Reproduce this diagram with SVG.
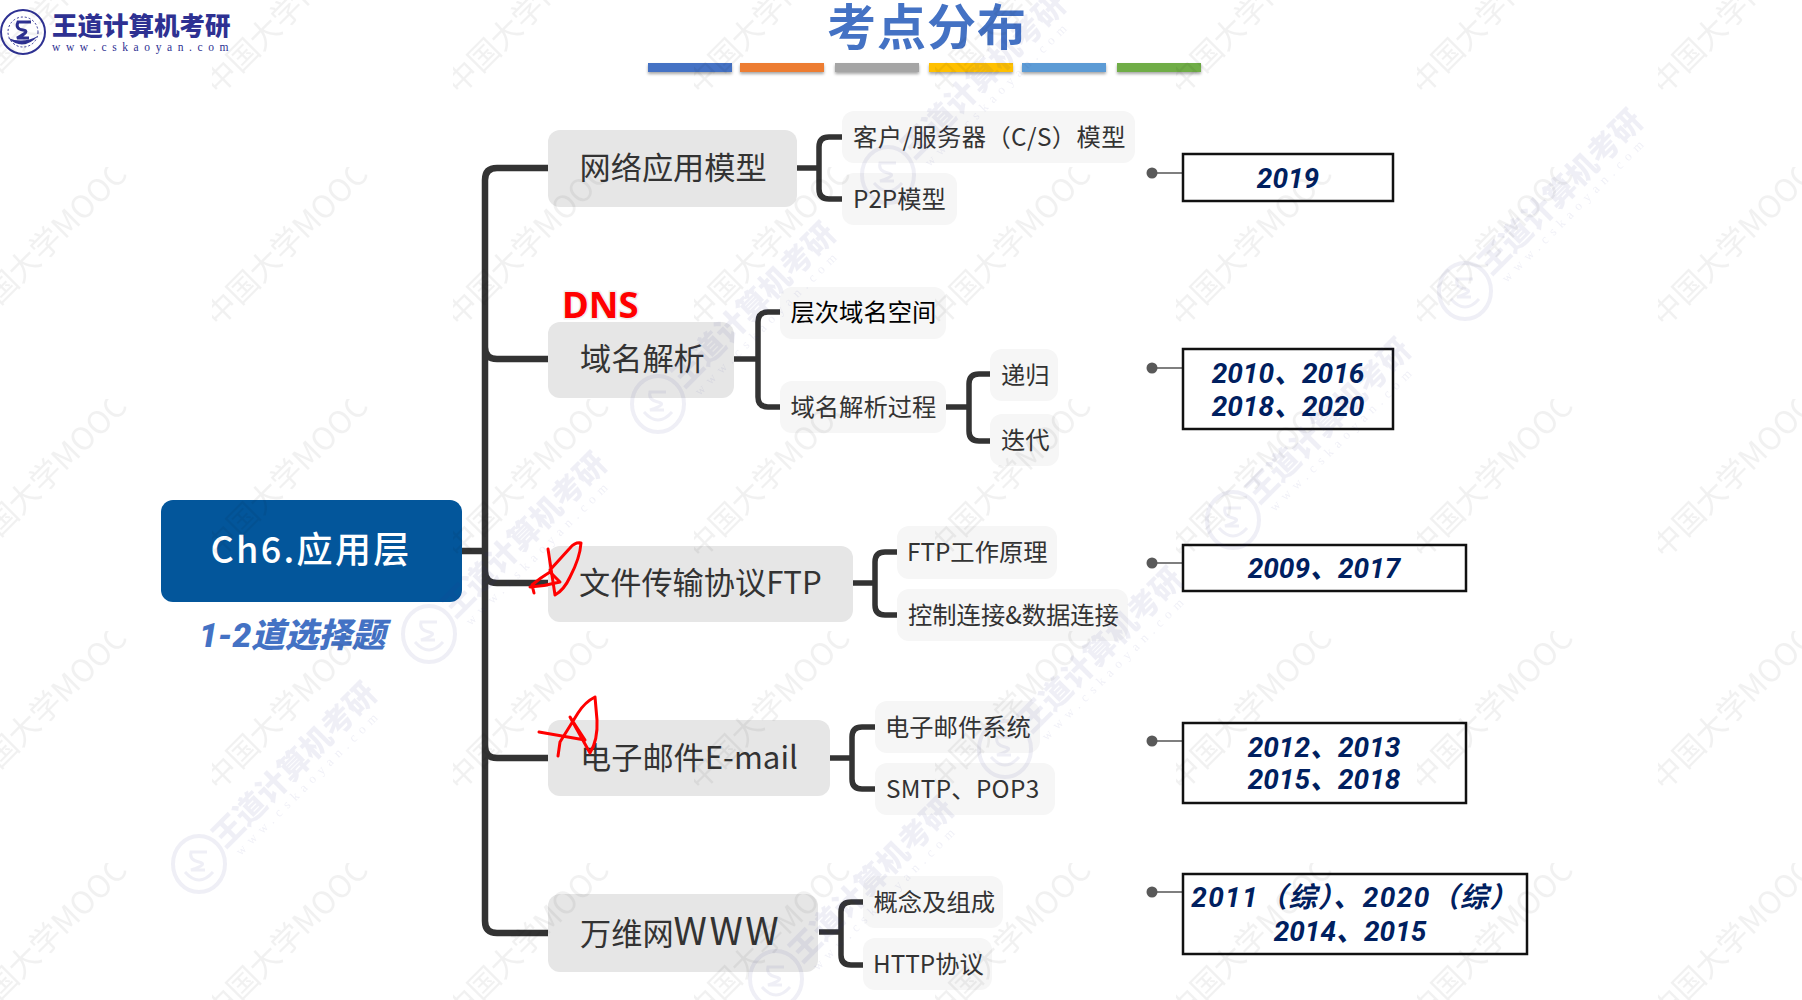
<svg xmlns="http://www.w3.org/2000/svg" xmlns:xlink="http://www.w3.org/1999/xlink" width="1802" height="1000" viewBox="0 0 1802 1000">
<style>
text{font-family:"Noto Sans CJK SC","Noto Sans",sans-serif}
.l1{fill:#e6e6e6}
.l2{fill:#f6f6f6}
.t1{font-size:31.2px;fill:#333}
.t2{font-size:24.3px;fill:#333}
.conn{fill:none;stroke:#333;stroke-width:5.5;stroke-linejoin:round}
.trunk{stroke-width:6.5}
.year{fill:#fff;stroke:#111;stroke-width:2.5}
.yt{font-family:Roboto,"Noto Sans CJK SC",sans-serif;font-size:28px;font-weight:700;font-style:italic;fill:#002060;text-anchor:middle}
.pin{fill:none;stroke:#7f7f7f;stroke-width:2}
.dot{fill:#595959}
.scr{fill:none;stroke:#f00;stroke-width:3;stroke-linejoin:round;stroke-linecap:round}
.wm1{font-size:31px;fill:#000;opacity:.055}
.wm2{font-size:31px;font-weight:900;fill:#2e3192;opacity:.07}
.wm3{font-family:"Liberation Serif",serif;font-size:13px;letter-spacing:6px;fill:#2e3192;opacity:.07}
</style>
<defs>
<filter id="sh" x="-10%" y="-30%" width="120%" height="200%"><feDropShadow dx="0" dy="2" stdDeviation="1.5" flood-color="#000" flood-opacity=".35"/></filter>
<pattern id="wmp" patternUnits="userSpaceOnUse" x="-29" y="-65" width="241" height="232">
<text class="wm1" transform="translate(6,161) rotate(-45)">中国大学MOOC</text>
</pattern>
<g id="wm2">
<ellipse cx="0" cy="0" rx="26" ry="28" fill="none" stroke="#2e3192" stroke-opacity=".08" stroke-width="4"/>
<path d="M-14 8Q0 24 14 8M8-12H-8Q-10-4 0-2T-8 6H6" fill="none" stroke="#2e3192" stroke-opacity=".08" stroke-width="3"/>
<g transform="rotate(-45)">
<text class="wm2" x="29" y="8">王道计算机考研</text>
<text class="wm3" x="35" y="24">www.cskaoyan.com</text>
</g>
</g>
</defs>
<rect width="1802" height="1000" fill="#fff"/>
<g id="logo">
<circle cx="23" cy="32" r="22" fill="#fff" stroke="#2e3192" stroke-width="2"/>
<circle cx="23" cy="32" r="15" fill="none" stroke="#2e3192" stroke-width="1" stroke-dasharray="2 2"/>
<path d="M8 38Q23 52 38 36Q23 44 8 38Z" fill="#2e3192"/>
<path d="M31 22H18Q15 29 23 30T17 38H29" fill="none" stroke="#2e3192" stroke-width="3"/>
<text x="52" y="35" font-size="25.5" font-weight="900" fill="#2e3192">王道计算机考研</text>
<text x="52" y="51" font-size="11.5" letter-spacing="5.6" style="font-family:'Liberation Serif',serif" fill="#2e3192">www.cskaoyan.com</text>
</g>
<g id="title">
<text x="927" y="45" font-size="49" font-weight="700" fill="#4472c4" text-anchor="middle" letter-spacing="1">考点分布</text>
<g filter="url(#sh)">
<rect x="648" y="63" width="84" height="9" fill="#4472c4"/>
<rect x="740" y="63" width="84" height="9" fill="#ed7d31"/>
<rect x="835" y="63" width="84" height="9" fill="#a5a5a5"/>
<rect x="929" y="63" width="84" height="9" fill="#ffc000"/>
<rect x="1022" y="63" width="84" height="9" fill="#5b9bd5"/>
<rect x="1117" y="63" width="84" height="9" fill="#70ad47"/>
</g>
</g>
<g id="connectors">
<path class="conn trunk" d="M462 551H485M548 168H497Q485 168 485 180V921Q485 933 497 933H548M485 347Q485 359 497 359H548M485 571Q485 583 497 583H548M485 746Q485 758 497 758H548"/>
<path class="conn" d="M796 168H819M842 137H829Q819 137 819 147V189Q819 199 829 199H842"/>
<path class="conn" d="M734 359H758M780 312H768Q758 312 758 322V397Q758 407 768 407H780"/>
<path class="conn" d="M946 407H969M990 374H979Q969 374 969 384V431Q969 441 979 441H990"/>
<path class="conn" d="M853 583H875M897 552H885Q875 552 875 562V605Q875 615 885 615H897"/>
<path class="conn" d="M830 758H852M875 727H862Q852 727 852 737V779Q852 789 862 789H875"/>
<path class="conn" d="M819 932H841M863 902H851Q841 902 841 912V955Q841 965 851 965H863"/>
<path class="pin" d="M1152 173H1182M1152 368H1182M1152 563H1182M1152 741H1182M1152 892H1182"/>
<circle class="dot" cx="1152" cy="173" r="5.5"/><circle class="dot" cx="1152" cy="368" r="5.5"/><circle class="dot" cx="1152" cy="563" r="5.5"/><circle class="dot" cx="1152" cy="741" r="5.5"/><circle class="dot" cx="1152" cy="892" r="5.5"/>
</g>
<g id="root">
<rect x="161" y="500" width="301" height="102" rx="12" fill="#03569b"/>
<text x="311" y="563" font-size="36" font-weight="500" fill="#fff" text-anchor="middle" letter-spacing="2.3">Ch6.应用层</text>
<text x="199" y="647" style="font-family:Roboto,'Noto Sans CJK SC',sans-serif" font-size="33.500" font-weight="900" font-style="italic" fill="#4472c4">1-2道选择题</text>
</g>
<g id="n-model"><rect class="l1" x="548" y="130" width="249" height="77" rx="12"/><text class="t1" x="579.500" y="179">网络应用模型</text></g>
<g id="n-cs"><rect class="l2" x="842" y="111" width="293" height="52" rx="12"/><text class="t2" x="853" y="146" letter-spacing=".4">客户/服务器（C/S）模型</text></g>
<g id="n-p2p"><rect class="l2" x="842" y="173" width="115" height="52" rx="12"/><text class="t2" x="853" y="208">P2P模型</text></g>
<g id="n-dns"><rect class="l1" x="548" y="322" width="186" height="76" rx="12"/><text class="t1" x="580" y="370">域名解析</text>
<text x="562" y="318" style="font-family:'Noto Sans',sans-serif;paint-order:stroke" font-size="36.500" font-weight="700" fill="#f00" stroke="#eee" stroke-width="3">DNS</text></g>
<g id="n-space"><rect class="l2" x="780" y="287" width="166" height="52" rx="12"/><text class="t2" style="fill:#000" x="790.500" y="321">层次域名空间</text></g>
<g id="n-proc"><rect class="l2" x="780" y="381" width="166" height="52" rx="12"/><text class="t2" x="790.500" y="416">域名解析过程</text></g>
<g id="n-rec"><rect class="l2" x="990" y="349" width="68" height="52" rx="12"/><text class="t2" x="1001" y="384">递归</text></g>
<g id="n-iter"><rect class="l2" x="990" y="414" width="69" height="52" rx="12"/><text class="t2" x="1001" y="449">迭代</text></g>
<g id="n-ftp"><rect class="l1" x="548" y="546" width="305" height="76" rx="12"/><text class="t1" x="579" y="594">文件传输协议FTP</text></g>
<g id="n-ftp1"><rect class="l2" x="897" y="526" width="160" height="53" rx="12"/><text class="t2" x="907" y="561">FTP工作原理</text></g>
<g id="n-ftp2"><rect class="l2" x="897" y="589" width="231" height="52" rx="12"/><text class="t2" x="908" y="624">控制连接&amp;数据连接</text></g>
<g id="n-mail"><rect class="l1" x="548" y="720" width="282" height="76" rx="12"/><text class="t1" x="580" y="769">电子邮件E-mail</text></g>
<g id="n-mail1"><rect class="l2" x="875" y="701" width="165" height="52" rx="12"/><text class="t2" x="885" y="736">电子邮件系统</text></g>
<g id="n-mail2"><rect class="l2" x="875" y="763" width="180" height="52" rx="12"/><text class="t2" x="886" y="798" letter-spacing=".3">SMTP、POP3</text></g>
<g id="n-www"><rect class="l1" x="548" y="894" width="270" height="78" rx="12"/><text class="t1" x="580" y="945">万维网<tspan font-size="38" letter-spacing="2.500">WWW</tspan></text></g>
<g id="n-www1"><rect class="l2" x="863" y="876" width="140" height="52" rx="12"/><text class="t2" x="873.500" y="911">概念及组成</text></g>
<g id="n-www2"><rect class="l2" x="863" y="938" width="129" height="52" rx="12"/><text class="t2" x="873" y="973">HTTP协议</text></g>
<g id="y1"><rect class="year" x="1183" y="154" width="210" height="47"/><text class="yt" x="1288" y="188">2019</text></g>
<g id="y2"><rect class="year" x="1183" y="349" width="210" height="80"/><text class="yt" x="1288" y="383">2010、2016</text><text class="yt" x="1288" y="416">2018、2020</text></g>
<g id="y3"><rect class="year" x="1183" y="545" width="283" height="46"/><text class="yt" x="1324" y="578">2009、2017</text></g>
<g id="y4"><rect class="year" x="1183" y="723" width="283" height="80"/><text class="yt" x="1324" y="757">2012、2013</text><text class="yt" x="1324" y="789">2015、2018</text></g>
<g id="y5"><rect class="year" x="1183" y="874" width="344" height="80"/><text class="yt" x="1355" y="907" letter-spacing="1.4">2011（综）、2020（综）</text><text class="yt" x="1350" y="941">2014、2015</text></g>
<g id="marks">
<path class="scr" d="M534 593L532 585Q540 578 550 572L560 582Q545 586 530 587"/>
<path class="scr" d="M548 549L555 595Q564 590 570 577Q580 558 581 543Q575 542 570 548L550 570"/>
<path class="scr" d="M539 732L585 740L570 717L590 753Q598 740 597 720L595 697Q585 702 578 713L560 742L558 756"/>
</g>
<g id="watermark" pointer-events="none">
<rect width="1802" height="1000" fill="url(#wmp)"/>
<use xlink:href="#wm2" href="#wm2" x="1465" y="291"/>
<use xlink:href="#wm2" href="#wm2" x="1233" y="520"/>
<use xlink:href="#wm2" href="#wm2" x="1005" y="749"/>
<use xlink:href="#wm2" href="#wm2" x="776" y="979"/>
<use xlink:href="#wm2" href="#wm2" x="888" y="175"/>
<use xlink:href="#wm2" href="#wm2" x="658" y="404"/>
<use xlink:href="#wm2" href="#wm2" x="429" y="634"/>
<use xlink:href="#wm2" href="#wm2" x="199" y="864"/>
</g>
</svg>
